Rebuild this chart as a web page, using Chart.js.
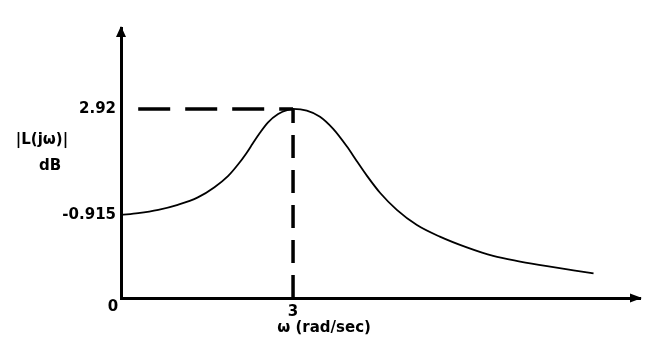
<!DOCTYPE html>
<html>
<head>
<meta charset="utf-8">
<script src="https://cdn.jsdelivr.net/npm/chart.js@4"></script>
<style>
  html, body { margin: 0; padding: 0; background: #fff; }
  #wrap { width: 655px; height: 343px; }
</style>
</head>
<body>
<div id="wrap"><canvas id="magChart"></canvas></div>
<script>
// curve
const omega = [0, 0.30, 0.65, 0.99, 1.34, 1.63, 1.87, 2.04, 2.19, 2.30, 2.42, 2.56, 2.74, 2.91, 3.0,
               3.24, 3.47, 3.70, 3.94, 4.11, 4.29, 4.52, 4.81, 5.16, 5.56, 6.03, 6.49, 6.96, 7.43, 7.89, 8.24];
const magDb = [-0.915, -0.85, -0.73, -0.55, -0.28, 0.09, 0.50, 0.91, 1.33, 1.68, 2.05, 2.43, 2.74, 2.89, 2.92,
               2.86, 2.64, 2.20, 1.56, 1.04, 0.50, -0.12, -0.73, -1.28, -1.70, -2.09, -2.40, -2.60, -2.77, -2.92, -3.03];

const peakOmega = 3;
const peakDb = 2.92;
const yTickValues = [2.92, -0.915];
const xTickValues = [3];
const yMin = -3.92, yMax = 5.85;
const xMin = 0, xMax = 9.05;

const FONT = 'bold 15px "DejaVu Sans"';

// arrows + free labels (axis titles, origin "0")
const sketchExtras = {
    id: 'sketchExtras',
    afterDraw(chart) {
        const ctx = chart.ctx;
        const a = chart.chartArea;
        const x = chart.scales.x;
        ctx.save();
        ctx.fillStyle = '#000';
        // y arrow
        ctx.beginPath();
        ctx.moveTo(a.left, a.top - 2);
        ctx.lineTo(a.left - 5, a.top + 9);
        ctx.lineTo(a.left + 5, a.top + 9);
        ctx.closePath();
        ctx.fill();
        // x arrow
        ctx.beginPath();
        ctx.moveTo(a.right + 2, a.bottom);
        ctx.lineTo(a.right - 10, a.bottom - 4.5);
        ctx.lineTo(a.right - 10, a.bottom + 4.5);
        ctx.closePath();
        ctx.fill();

        ctx.font = FONT;
        ctx.textAlign = 'center';
        ctx.textBaseline = 'middle';
        ctx.fillText('0', a.left - 8, a.bottom + 9);
        ctx.fillText('|L(jω)|', 42, 140);
        ctx.fillText('dB', 50, 166);
        ctx.fillText('ω (rad/sec)', x.getPixelForValue(peakOmega) + 31, a.bottom + 30);
        ctx.restore();
    }
};

const ctx = document.getElementById('magChart').getContext('2d');
new Chart(ctx, {
    type: 'line',
    data: {
        datasets: [
            {
                label: '|L(jω)|',
                data: omega.map((w, i) => ({ x: w, y: magDb[i] })),
                borderColor: '#000',
                borderWidth: 1.8,
                pointRadius: 0,
                cubicInterpolationMode: 'monotone',
                fill: false
            },
            {
                label: 'peak level',
                data: [{ x: 0.3, y: peakDb }, { x: peakOmega, y: peakDb }],
                borderColor: '#000',
                borderWidth: 3.5,
                borderDash: [32, 15],
                pointRadius: 0,
                fill: false
            },
            {
                label: 'peak freq',
                data: [{ x: peakOmega, y: yMin }, { x: peakOmega, y: peakDb }],
                borderColor: '#000',
                borderWidth: 3.5,
                borderDash: [23, 12],
                pointRadius: 0,
                fill: false
            }
        ]
    },
    options: {
        responsive: true,
        maintainAspectRatio: false,
        animation: false,
        layout: { padding: { top: 28, right: 15, left: 0, bottom: 0 } },
        plugins: {
            legend: { display: false },
            tooltip: { enabled: false }
        },
        scales: {
            x: {
                type: 'linear',
                min: xMin,
                max: xMax,
                grid: { display: false, drawTicks: false },
                border: { display: true, color: '#000', width: 3 },
                afterBuildTicks: s => { s.ticks = xTickValues.map(v => ({ value: v })); },
                afterFit: s => { s.height = 45; },
                ticks: {
                    color: '#000',
                    font: { family: 'DejaVu Sans', size: 15, weight: 'bold' },
                    padding: 5,
                    maxRotation: 0,
                    callback: v => String(v)
                }
            },
            y: {
                type: 'linear',
                min: yMin,
                max: yMax,
                grid: { display: false, drawTicks: false },
                border: { display: true, color: '#000', width: 3 },
                afterBuildTicks: s => { s.ticks = yTickValues.map(v => ({ value: v })); },
                afterFit: s => { s.width = 121; },
                ticks: {
                    color: '#000',
                    font: { family: 'DejaVu Sans', size: 15, weight: 'bold' },
                    padding: 5,
                    callback: v => String(v)
                }
            }
        }
    },
    plugins: [sketchExtras]
});
</script>
</body>
</html>
